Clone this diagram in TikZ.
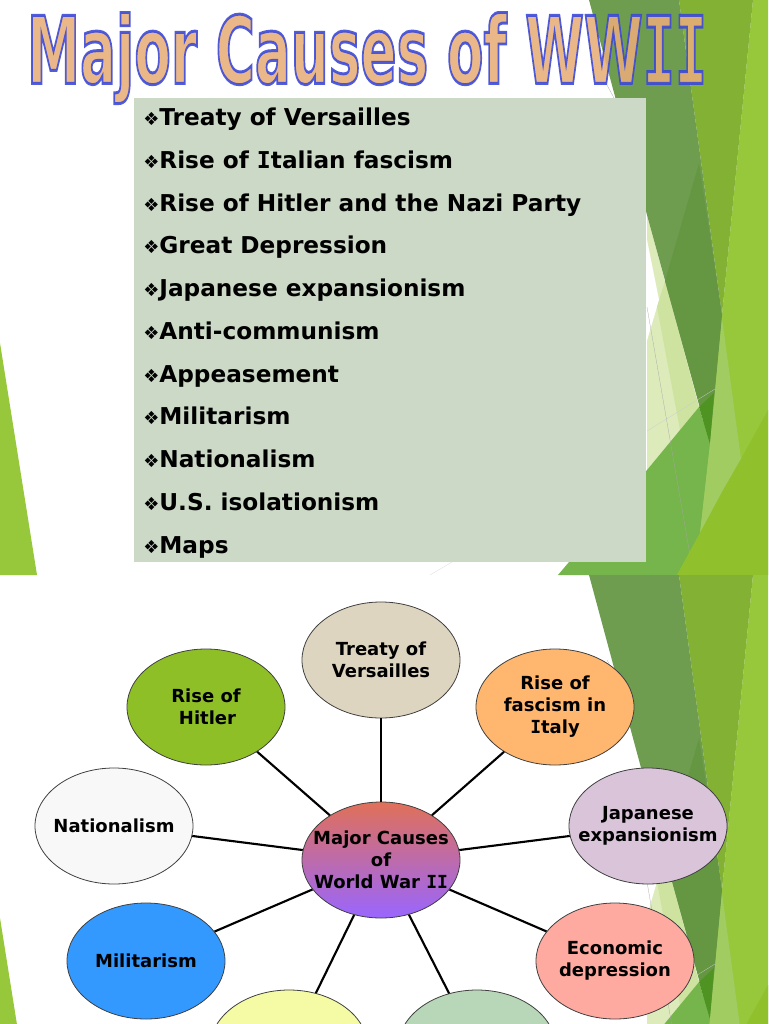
\documentclass[tikz,border=0pt]{standalone}
\usepackage{fontspec}
\setmainfont{DejaVu Sans}
\newfontfamily\monofont{DejaVu Sans Mono}
\usetikzlibrary{shapes.geometric}
\definecolor{leafgray}{HTML}{6F9D50}
\definecolor{leafdeep}{HTML}{659743}
\definecolor{leafdark}{HTML}{4F9423}
\definecolor{leafolive}{HTML}{83B133}
\definecolor{leafbright}{HTML}{97C83C}
\definecolor{leafmid}{HTML}{76B44C}
\definecolor{leaflime}{HTML}{90C02C}
\definecolor{leafsoft}{HTML}{A0CC62}
\definecolor{leafpale}{HTML}{DDEBBB}
\definecolor{leafmoss}{HTML}{CFE3A0}
\definecolor{panelgreen}{HTML}{CBD9C6}
\definecolor{titlefill}{HTML}{E8AE78}
\newcommand{\romanI}{{\monofont I}}
\newcommand{\itemmark}{{\normalfont\fontsize{13.5pt}{13.5pt}\selectfont\char"2756}}
\newcommand{\slideback}{%
\fill[leafbright] (753,0) -- (768,0) -- (768,575) -- (677,575) -- (722,315) -- cycle;
\fill[leafolive] (679,0) -- (753,0) -- (722,315) -- cycle;
\fill[leafpale] (647,215) -- (699,407) -- (647,470) -- cycle;
\fill[white] (646,235) -- (659,300) -- (646,344) -- cycle;
\fill[leafmoss] (665,281) -- (699,407) -- (680,430) -- (657,307) -- cycle;
\fill[leafgray] (589,0) -- (679,0) -- (722,315) -- (710,444) -- (647,215) -- cycle;
\fill[leafdeep] (699,163) -- (722,315) -- (710,444) -- (665,281) -- cycle;
\fill[leafmid] (558,575) -- (647,470) -- (699,407) -- (710,444) -- (700,533) -- (677,575) -- cycle;
\fill[leafdark] (699,407) -- (714,393) -- (710,444) -- cycle;
\fill[leafsoft] (722,318) -- (741,459) -- (700,533) -- (710,444) -- cycle;
\fill[leaflime] (677,575) -- (700,533) -- (722,492) -- (741,459) -- (768,410) -- (768,575) -- cycle;
\fill[leafbright] (0,343) -- (37,575) -- (0,575) -- cycle;
\draw[gray!70,very thin] (647,307) -- (690,555);
\draw[gray!70,very thin] (607,85) -- (614,98);
\draw[gray!40,very thin] (647,431) -- (715,389);
\draw[gray!30,very thin] (430,575) -- (452,562);
}
\tikzset{
    titletext/.style = {transform shape,xscale=0.571,text=titlefill,text opacity=0.88,font=\fontsize{70pt}{70pt}\selectfont\bfseries},
    listitem/.style = {anchor=base west,inner sep=0pt,font=\fontsize{17.4pt}{18pt}\selectfont\bfseries},
    cause/.style = {ellipse, draw=black!75, line width=0.6pt, align=center, minimum width = 118.5pt, minimum height = 87pt, inner xsep=-14pt, inner ysep=0pt, font=\fontsize{13.5pt}{16.5pt}\selectfont\bfseries},
    spoke/.style = {line width=1.6pt,draw=black},
}
\begin{document}
\begin{tikzpicture}[x=0.75pt,y=-0.75pt]
\clip (0,0) rectangle (768,1024);
\useasboundingbox (0,0) rectangle (768,1024);
\fill[white] (0,0) rectangle (768,1024);
\slideback
\begin{scope}[yshift=-431.25pt]
\slideback
\end{scope}
%
\node[titletext] at (367,58) (title) {\special{pdf:code 2 Tr 2.2 w 0.22 0.28 0.85 RG}Major Causes of WW\romanI\romanI\special{pdf:code 0 Tr}};
\node[rectangle, draw=none, fill=panelgreen, minimum width = 384pt, minimum height = 348pt, inner sep=0pt] at (390,330) (panel) {};
%
\node[listitem] at (143,125) (versailles) {\itemmark Treaty of Versailles};
\node[listitem] at (143,168) (fascism) {\itemmark Rise of \romanI talian fascism};
\node[listitem] at (143,211) (nazi) {\itemmark Rise of Hitler and the Nazi Party};
\node[listitem] at (143,253) (depression) {\itemmark Great Depression};
\node[listitem] at (143,296) (japan) {\itemmark Japanese expansionism};
\node[listitem] at (143,339) (communism) {\itemmark Anti-communism};
\node[listitem] at (143,382) (appeasement) {\itemmark Appeasement};
\node[listitem] at (143,424) (military) {\itemmark Militarism};
\node[listitem] at (143,467) (nation) {\itemmark Nationalism};
\node[listitem] at (143,510) (isolation) {\itemmark U.S. isolationism};
\node[listitem] at (143,553) (maps) {\itemmark Maps};
%
\node[cause, top color={rgb,255:red,224;green,112;blue,88}, bottom color={rgb,255:red,153;green,102;blue,255}] at (381,860) (hub) {Major Causes\\of\\ World War \romanI\romanI};
\node[cause, fill={rgb,255:red,221;green,213;blue,192}] at (381,660) (treaty) {Treaty of\\Versailles};
\node[cause, fill={rgb,255:red,143;green,191;blue,38}] at (206,707) (hitler) {Rise of\\ \,Hitler};
\node[cause, fill={rgb,255:red,255;green,182;blue,110}] at (555,707) (italy) {Rise of\\fascism in\\\romanI taly};
\node[cause, fill={rgb,255:red,248;green,248;blue,248}] at (114,826) (nationalism) {Nationalism};
\node[cause, fill={rgb,255:red,217;green,196;blue,218}] at (648,826) (expansion) {Japanese\\expansionism};
\node[cause, fill={rgb,255:red,51;green,153;blue,255}] at (146,961) (militarism) {Militarism};
\node[cause, fill={rgb,255:red,255;green,170;blue,160}] at (615,961) (economic) {Economic\\depression};
\node[cause, fill={rgb,255:red,245;green,251;blue,165}] at (289,1048) (yellowcause) {};
\node[cause, fill={rgb,255:red,184;green,214;blue,184}] at (477,1048) (greencause) {};
%
\draw[spoke] (hub) -- (treaty);
\draw[spoke] (hub) -- (hitler);
\draw[spoke] (hub) -- (italy);
\draw[spoke] (hub) -- (nationalism);
\draw[spoke] (hub) -- (expansion);
\draw[spoke] (hub) -- (militarism);
\draw[spoke] (hub) -- (economic);
\draw[spoke] (hub) -- (yellowcause);
\draw[spoke] (hub) -- (greencause);
\end{tikzpicture}
\end{document}
